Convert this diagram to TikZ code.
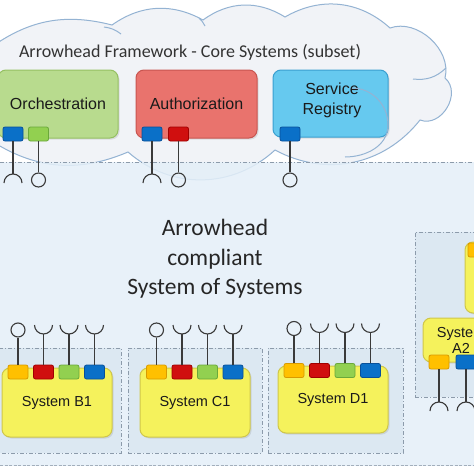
\documentclass[tikz,border=0pt]{standalone}
\usepackage{fontspec}
\setmainfont{Liberation Sans}
\newfontfamily\titlefont{Carlito}
\usetikzlibrary{shadows}
\definecolor{cloudfill}{HTML}{F1F3F7}
\definecolor{cloudline}{HTML}{94B3D3}
\definecolor{sosfill}{HTML}{E4EFF8}
\definecolor{subfill}{HTML}{D8E5F0}
\definecolor{subline}{HTML}{8C9BAB}
\definecolor{orchfill}{HTML}{B8DB8E}
\definecolor{orchline}{HTML}{95C062}
\definecolor{authfill}{HTML}{E9736D}
\definecolor{authline}{HTML}{C85550}
\definecolor{srfill}{HTML}{66C9EF}
\definecolor{srline}{HTML}{3A9FD0}
\definecolor{yfill}{HTML}{F5F25C}
\definecolor{yline}{HTML}{CFC64A}
\definecolor{sqyf}{HTML}{FFC000}
\definecolor{sqyl}{HTML}{D99A00}
\definecolor{sqrf}{HTML}{D00F0F}
\definecolor{sqrl}{HTML}{A00000}
\definecolor{sqgf}{HTML}{92D050}
\definecolor{sqgl}{HTML}{6AA83A}
\definecolor{sqbf}{HTML}{0A70C8}
\definecolor{sqbl}{HTML}{08509A}
\definecolor{stemc}{HTML}{3A3A3A}
\definecolor{txt}{HTML}{1A1A1A}
\tikzset{
  corebox/.style={draw, line width=1pt, rounded corners=8pt, inner sep=0pt,
    font=\fontsize{16}{20}\selectfont, text=txt, align=center,
    drop shadow={opacity=0.2, shadow xshift=1.5pt, shadow yshift=-1.5pt}},
  sysbox/.style={draw=yline, fill=yfill, line width=1pt, rounded corners=8pt, inner sep=0pt,
    font=\fontsize{14.5}{17}\selectfont, text=txt, align=center,
    drop shadow={opacity=0.2, shadow xshift=1.5pt, shadow yshift=-1.5pt}},
  sq/.style={draw, line width=0.8pt, rounded corners=2pt, minimum width=20pt, minimum height=14pt, inner sep=0pt},
  sqY/.style={sq, fill=sqyf, draw=sqyl},
  sqR/.style={sq, fill=sqrf, draw=sqrl},
  sqG/.style={sq, fill=sqgf, draw=sqgl},
  sqB/.style={sq, fill=sqbf, draw=sqbl},
  stem/.style={draw=stemc, line width=1.1pt},
  lolli/.style={circle, draw=stemc, line width=1.1pt, minimum size=14pt, inner sep=0pt},
  region/.style={fill=subfill, fill opacity=0.7, draw=subline, line width=0.8pt,
    dash pattern=on 4pt off 2pt on 1pt off 2pt, inner sep=0pt},
  cloudedge/.style={draw=cloudline, line width=1pt},
}
\begin{document}
\begin{tikzpicture}[x=1pt,y=-1pt]
\clip (0,0) rectangle (474,474);
\fill[white] (0,0) rectangle (474,474);
% cloud
\draw[cloudedge, fill=cloudfill]
  (-10,48) to[bend left=25] (112,25) to[bend left=32] (203,20)
  to[bend left=34] (285,17) to[bend left=36] (390,28)
  to[bend left=62] (445,78) to[bend left=80, looseness=1.2] (420,120)
  to[bend left=40] (275,150) to[bend left=42] (128,152)
  to[bend left=28] (-10,140) -- cycle;
\draw[cloudedge] (104,27) to[bend left=15] (121,34);
\draw[cloudedge] (199,18) to[bend left=10] (205,26);
\draw[cloudedge] (446,68) to[bend left=25] (413,79);
% SoS region
\fill[sosfill, fill opacity=0.85] (-1,162) rectangle (475,466);
\draw[subline, line width=0.8pt, dash pattern=on 4pt off 2pt on 1pt off 2pt] (0,162) -- (474,162);
\draw[subline!80, line width=1pt, dash pattern=on 3pt off 1.5pt] (0,465.5) -- (474,465.5);
% title
\node[font=\titlefont\fontsize{18}{22}\selectfont, text=black!80] (title) at (190,52) {Arrowhead Framework - Core Systems (subset)};
% core systems
\node[corebox, fill=orchfill, draw=orchline, minimum width=120pt, minimum height=68pt] (orch) at (58,104) {Orchestration};
\node[corebox, fill=authfill, draw=authline, minimum width=121pt, minimum height=68pt] (auth) at (196.5,104) {Authorization};
\node[corebox, fill=srfill, draw=srline, minimum width=115pt, minimum height=67pt] (sr) at (330.5,103.5) {};
\node[font=\fontsize{16}{20}\selectfont, text=txt, align=center] (srtext) at (332,100) {Service\\Registry};
\draw[cloudedge] (352,88) to[out=0,in=90] (388,125) to[out=-90,in=0] (345,157);
% core interfaces
\node[sqB] (o1) at (13,134) {};
\node[sqG] (o2) at (38.5,134) {};
\node[sqB] (a1) at (152,134) {};
\node[sqR] (a2) at (178.5,134) {};
\node[sqB] (s1) at (290,134) {};
\coordinate (ko1) at (13,174);
\node[lolli] (lo2) at (38.5,180) {};
\coordinate (ka1) at (152,174);
\node[lolli] (la2) at (178.5,180) {};
\node[lolli] (ls1) at (290,180) {};
\draw[stem] (o1.south) -- (ko1);
\draw[stem] (o2.south) -- (lo2.north);
\draw[stem] (a1.south) -- (ka1);
\draw[stem] (a2.south) -- (la2.north);
\draw[stem] (s1.south) -- (ls1.north);
\draw[stem] (ko1) ++(-9,9) arc[start angle=180,end angle=360,radius=9];
\draw[stem] (ka1) ++(-9,9) arc[start angle=180,end angle=360,radius=9];
% big text
\node[align=center, font=\titlefont\fontsize{23.5}{29.5}\selectfont, text=black!85] (sos) at (215,259) {Arrowhead\\compliant\\System of Systems};
% sub regions
\node[region, minimum width=128pt, minimum height=105pt] (rb) at (57,400.5) {};
\node[region, minimum width=134pt, minimum height=105pt] (rc) at (195,400.5) {};
\node[region, minimum width=135pt, minimum height=105pt] (rd) at (335.5,400.5) {};
\node[region, minimum width=70pt, minimum height=165pt] (ra) at (450,314.5) {};
% systems
\node[sysbox, minimum width=110pt, minimum height=69pt] (b1) at (57,402.5) {System B1};
\node[sysbox, minimum width=110pt, minimum height=69pt] (c1) at (195,402.5) {System C1};
\node[sysbox, minimum width=110pt, minimum height=67pt] (d1) at (333,399.5) {System D1};
\node[sysbox, minimum width=30pt, minimum height=71pt] (a1box) at (480,277.5) {};
\node[sysbox, minimum width=70pt, minimum height=44pt] (a2) at (458,340) {};
\node[font=\fontsize{14.5}{16}\selectfont, text=txt, align=center] (a2t) at (461,340) {System\\A2};
\node[sqY] (a1y) at (478,250) {};
% system interfaces
\foreach \sys/\x/\y in {b/18/372, c/156.5/372, d/294/370.5}{
  \node[sqY] (\sys1) at (\x,\y) {};
  \node[sqR] (\sys2) at (\x+25.5,\y) {};
  \node[sqG] (\sys3) at (\x+51,\y) {};
  \node[sqB] (\sys4) at (\x+76.5,\y) {};
  \node[lolli] (\sys l1) at (\x,\y-42) {};
  \coordinate (\sys k2) at (\x+25.5,\y-38);
  \coordinate (\sys k3) at (\x+51,\y-38);
  \coordinate (\sys k4) at (\x+76.5,\y-38);
  \draw[stem] (\sys1.north) -- (\sys l1.south);
  \draw[stem] (\sys2.north) -- (\sys k2);
  \draw[stem] (\sys3.north) -- (\sys k3);
  \draw[stem] (\sys4.north) -- (\sys k4);
  \foreach \k in {2,3,4}{
    \draw[stem] (\sys k\k) ++(-9,-9) arc[start angle=180,end angle=0,radius=9];
  }
}
% A2 interfaces
\node[sqY] (a2y) at (439,362) {};
\node[sqB] (a2b) at (466,362) {};
\coordinate (ka2y) at (439,402);
\coordinate (ka2b) at (466,402);
\draw[stem] (a2y.south) -- (ka2y);
\draw[stem] (a2b.south) -- (ka2b);
\draw[stem] (ka2y) ++(-9,9) arc[start angle=180,end angle=360,radius=9];
\draw[stem] (ka2b) ++(-9,9) arc[start angle=180,end angle=360,radius=9];
\end{tikzpicture}
\end{document}
